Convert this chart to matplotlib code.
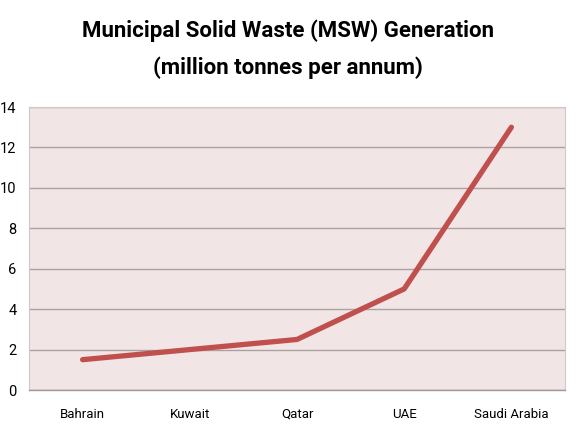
import matplotlib
matplotlib.use("Agg")
import matplotlib.pyplot as plt
from matplotlib import font_manager

countries = ["Bahrain", "Kuwait", "Qatar", "UAE", "Saudi Arabia"]
msw = [1.5, 2.0, 2.5, 5.0, 13.0]
yticks = [0, 2, 4, 6, 8, 10, 12, 14]

names = {f.name for f in font_manager.fontManager.ttflist}
fam = "Liberation Sans Narrow" if "Liberation Sans Narrow" in names else "Roboto"
plt.rcParams['font.family'] = [fam, 'DejaVu Sans']

fig = plt.figure(figsize=(5.76, 4.32), dpi=100)
ax = fig.add_axes([29/576, 1-390/432, 536/576, 283/432])
ax.set_facecolor("#f2e5e5")
x = list(range(len(countries)))
ax.plot(x, msw, color="#c0504d", linewidth=3.8, solid_capstyle="round", zorder=3)
ax.set_xlim(-0.5, len(countries) - 0.5)
ax.set_ylim(0, 14)
ax.set_yticks(yticks)
ax.set_yticklabels([str(t) for t in yticks], fontsize=10.5)
ax.set_xticks(x)
ax.set_xticklabels(countries, fontsize=9.5)
ax.tick_params(axis='both', length=0)
ax.tick_params(axis='x', pad=13)
ax.tick_params(axis='y', pad=9)
ax.grid(axis='y', color="#aaa2a2", linewidth=1.0)
ax.set_axisbelow(True)
for s in ["top", "right", "left"]:
    ax.spines[s].set_color("#d0c8c8")
    ax.spines[s].set_linewidth(0.8)
ax.spines["bottom"].set_color("#a09898")
ax.spines["bottom"].set_linewidth(1.0)

fig.text(0.5, 1-31/432, "Municipal Solid Waste (MSW) Generation", ha="center", va="center",
         fontsize=16, fontweight="bold")
fig.text(0.5, 1-68/432, "(million tonnes per annum)", ha="center", va="center",
         fontsize=16, fontweight="bold")
fig.savefig("out.png", dpi=100)
